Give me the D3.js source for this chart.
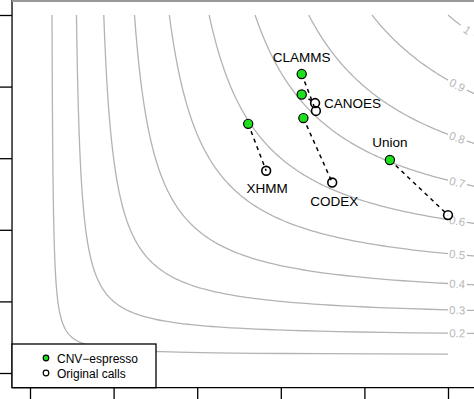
<!DOCTYPE html>
<html>
<head>
<meta charset="utf-8">
<script src="https://cdn.jsdelivr.net/npm/d3@7"></script>
<style>
  body { margin: 0; background: #fff; }
  text { font-family: "Liberation Sans", Arial, Helvetica, sans-serif; }
</style>
</head>
<body>
<div id="container"></div>
<script>
/* CONSTANTS AND GLOBALS */
const width = 474;
const height = 399;

/* DATA */
const tools = ["CLAMMS", "CANOES", "CODEX", "XHMM", "Union"];
const espressoX = [0.650, 0.650, 0.654, 0.522, 0.861];
const espressoY = [0.835, 0.778, 0.712, 0.696, 0.595];
const originalX = [0.684, 0.682, 0.723, 0.565, 1.000];
const originalY = [0.732, 0.754, 0.532, 0.565, 0.441];
const fLevels = [0.1, 0.2, 0.3, 0.4, 0.5, 0.6, 0.7, 0.8, 0.9, 1];
const labelledLevels = [0.2, 0.3, 0.4, 0.5, 0.6, 0.7, 0.8, 0.9, 1];
const axisTicks = [0, 0.2, 0.4, 0.6, 0.8, 1];
const legendLabels = ["CNV\u2212espresso", "Original calls"];

// where each tool name sits (which point, offset, anchor)
const labelPlace = {
  CLAMMS: {pt: "e", dx: 0, dy: -12, anchor: "middle"},
  CANOES: {pt: "o", dx: 9, dy: 4.5, anchor: "start"},
  CODEX:  {pt: "o", dx: 2, dy: 23, anchor: "middle"},
  XHMM:   {pt: "o", dx: 1, dy: 22, anchor: "middle"},
  Union:  {pt: "e", dx: 0, dy: -13, anchor: "middle"}
};

const rows = tools.map((t, i) => ({
  tool: t, ex: espressoX[i], ey: espressoY[i], ox: originalX[i], oy: originalY[i]
}));

/* SCALES */
const x = d3.scaleLinear().domain([0, 1]).range([30, 448]);
const y = d3.scaleLinear().domain([0, 1]).range([373, 15]);
const boxLeft = x(-0.043), boxBottom = y(-0.041);

const svg = d3.select("#container")
  .append("svg")
    .attr("width", width)
    .attr("height", height);

/* F-MEASURE CONTOURS */
const pAt = (f, r) => f * r / (2 * r - f);
function isoF(f, r0, r1) {
  const t0 = Math.atan2(pAt(f, r0), r0), t1 = Math.atan2(pAt(f, r1), r1);
  return d3.range(0, 121).map(k => {
    const t = t0 + (t1 - t0) * k / 120;
    const s = Math.sin(t), c = Math.cos(t);
    const rad = f * (s + c) / (2 * s * c);
    return [rad * c, rad * s];
  });
}
const line = d3.line().x(d => x(d[0])).y(d => y(d[1]));

const contours = svg.append("g")
  .attr("fill", "none")
  .attr("stroke", "#b3b3b3")
  .attr("stroke-width", 1.3);

fLevels.forEach(f => {
  const labelled = labelledLevels.includes(f);
  let segs, labR;
  if (!labelled) {
    segs = [[f / (2 - f), 1.0]];
  } else if (f < 1) {
    segs = [[f / (2 - f), 1.0], [1.045, 1.13]];
    labR = 1.022;
  } else {
    segs = [[1.0, 1.03], [1.062, 1.13]];
    labR = 1.046;
  }
  segs.forEach(s => contours.append("path").attr("d", line(isoF(f, s[0], s[1]))));
  if (!labelled) return;
  const ax = x(labR - 0.005), ay = y(pAt(f, labR - 0.005));
  const bx = x(labR + 0.005), by = y(pAt(f, labR + 0.005));
  const ang = Math.atan2(by - ay, bx - ax) * 180 / Math.PI;
  svg.append("text")
    .attr("transform", `translate(${x(labR)},${y(pAt(f, labR))}) rotate(${ang})`)
    .attr("text-anchor", "middle")
    .attr("dy", "0.35em")
    .attr("font-size", 11.5)
    .attr("fill", "#b8b8b8")
    .text(f);
});

/* AXES */
svg.append("g")
  .attr("transform", `translate(${boxLeft},0)`)
  .call(d3.axisLeft(y).tickValues(axisTicks).tickSize(13).tickSizeOuter(0).tickFormat(""))
  .call(g => g.select(".domain").remove())
  .selectAll("line").attr("stroke", "#000").attr("stroke-width", 1.3);

svg.append("g")
  .attr("transform", `translate(0,${boxBottom})`)
  .call(d3.axisBottom(x).tickValues(axisTicks).tickSize(14).tickSizeOuter(0).tickFormat(""))
  .call(g => g.select(".domain").remove())
  .selectAll("line").attr("stroke", "#000").attr("stroke-width", 1.3);

// box
svg.append("line")
  .attr("x1", boxLeft).attr("x2", boxLeft).attr("y1", 0).attr("y2", boxBottom)
  .attr("stroke", "#000").attr("stroke-width", 1.3);
svg.append("line")
  .attr("x1", boxLeft).attr("x2", width).attr("y1", boxBottom).attr("y2", boxBottom)
  .attr("stroke", "#000").attr("stroke-width", 1.3);
svg.append("line")
  .attr("x1", boxLeft).attr("x2", width).attr("y1", 1).attr("y2", 1)
  .attr("stroke", "#999").attr("stroke-width", 2);

/* CONNECTORS AND POINTS */
svg.selectAll(".link")
  .data(rows)
  .join("line")
    .attr("class", "link")
    .attr("x1", d => x(d.ex)).attr("y1", d => y(d.ey))
    .attr("x2", d => x(d.ox)).attr("y2", d => y(d.oy))
    .attr("stroke", "#000")
    .attr("stroke-width", 1.5)
    .attr("stroke-dasharray", "4,4");

svg.selectAll(".orig")
  .data(rows)
  .join("circle")
    .attr("class", "orig")
    .attr("cx", d => x(d.ox)).attr("cy", d => y(d.oy))
    .attr("r", 4.4)
    .attr("fill", "none")
    .attr("stroke", "#000")
    .attr("stroke-width", 1.6);

svg.selectAll(".esp")
  .data(rows)
  .join("circle")
    .attr("class", "esp")
    .attr("cx", d => x(d.ex)).attr("cy", d => y(d.ey))
    .attr("r", 4.6)
    .attr("fill", "#1ee01e")
    .attr("stroke", "#000")
    .attr("stroke-width", 1.2);

svg.selectAll(".tool")
  .data(rows)
  .join("text")
    .attr("class", "tool")
    .attr("x", d => (labelPlace[d.tool].pt === "e" ? x(d.ex) : x(d.ox)) + labelPlace[d.tool].dx)
    .attr("y", d => (labelPlace[d.tool].pt === "e" ? y(d.ey) : y(d.oy)) + labelPlace[d.tool].dy)
    .attr("text-anchor", d => labelPlace[d.tool].anchor)
    .attr("font-size", 13.5)
    .attr("fill", "#000")
    .text(d => d.tool);

/* LEGEND */
const legend = svg.append("g");
legend.append("rect")
  .attr("x", boxLeft).attr("y", 344)
  .attr("width", 156 - boxLeft).attr("height", boxBottom - 344)
  .attr("fill", "#fff").attr("stroke", "#000").attr("stroke-width", 1.3);

legendLabels.forEach((lab, i) => {
  legend.append("circle")
    .attr("cx", 46).attr("cy", 358 + i * 15)
    .attr("r", 2.8)
    .attr("fill", i === 0 ? "#1ee01e" : "none")
    .attr("stroke", "#000").attr("stroke-width", 1.2);
  legend.append("text")
    .attr("x", 57).attr("y", 362.5 + i * 15)
    .attr("font-size", 12)
    .text(lab);
});
</script>
</body>
</html>
